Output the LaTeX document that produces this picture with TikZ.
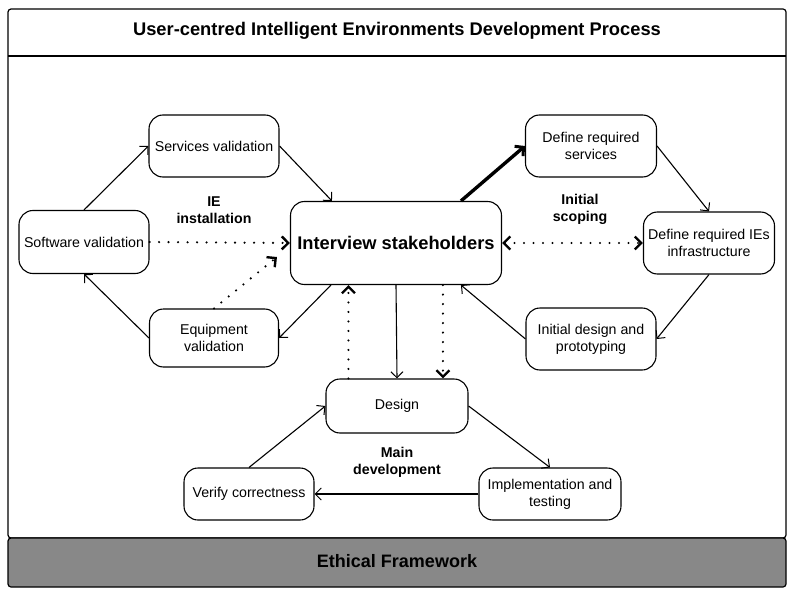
\documentclass[tikz,border=0pt]{standalone}
\usepackage{fontspec}
\setmainfont{Liberation Sans}
\usetikzlibrary{arrows.meta}
\definecolor{bandgray}{RGB}{136,136,136}
\tikzset{stage/.style = {draw, rounded corners=14pt, align=center, line width=1.1pt,
                         font=\fontsize{14.2}{17}\selectfont, inner sep=0pt},
         phase/.style = {align=center, font=\bfseries\fontsize{14.2}{17}\selectfont},
         barb/.tip = {Straight Barb[length=6pt,width=12pt,line width=1pt]},
         dotbarb/.tip = {Straight Barb[length=6.5pt,width=13pt,line width=2.4pt]},
         flow/.style = {-barb, line width=1.1pt},
         link/.style = {dash pattern=on 0pt off 9.5pt, line cap=round, line width=2.4pt},
         push/.style = {-{Straight Barb[length=6pt,width=13pt,line width=3pt]}, line width=3.4pt}}

\begin{document}
\begin{tikzpicture}[x=1pt, y=-1pt]
      \useasboundingbox (0, 0) rectangle (794, 596);

      % frame
      \draw [line width=1.2pt, rounded corners=3pt] (8, 9) rectangle (786, 538);
      \draw [line width=1.2pt] (8, 56) -- (786, 56);
      \draw [line width=1.2pt, rounded corners=3pt, fill=bandgray] (8, 538) rectangle (786, 587);
      \node [font=\bfseries\fontsize{18.3}{21}\selectfont] (title) at (397, 31)
            {User-centred Intelligent Environments Development Process};
      \node [font=\bfseries\fontsize{18}{21}\selectfont] (ethics) at (397, 561) {Ethical Framework};

      % stages
      \node [stage, minimum width=211, minimum height=83,
             font=\bfseries\fontsize{18.3}{21}\selectfont] (interview) at (396, 243) {Interview stakeholders};
      \node [stage, minimum width=130, minimum height=62] (servval) at (214, 146) {Services validation};
      \node [stage, minimum width=130, minimum height=63] (softval) at (84, 242) {Software validation};
      \node [stage, minimum width=129, minimum height=58] (equipval) at (214, 338) {Equipment\\validation};
      \node [stage, minimum width=131, minimum height=62] (defserv) at (591, 146) {Define required\\services};
      \node [stage, minimum width=131, minimum height=62] (defies) at (709, 243) {Define required IEs\\infrastructure};
      \node [stage, minimum width=130, minimum height=62] (initdes) at (591, 339) {Initial design and\\prototyping};
      \node [stage, minimum width=142, minimum height=54] (design) at (397, 406) {Design};
      \node [stage, minimum width=130, minimum height=52] (verify) at (249, 494) {Verify correctness};
      \node [stage, minimum width=142, minimum height=52] (implement) at (550, 494) {Implementation and\\testing};

      \node [phase] (install) at (214, 210) {IE\\installation};
      \node [phase] (scoping) at (580, 209) {Initial\\scoping};
      \node [phase] (maindev) at (397, 462) {Main\\development};

      % installation loop
      \draw [flow] (softval.north) -- (servval.west);
      \draw [flow] (servval.east) -- ([xshift=42pt]interview.north west);
      \draw [flow] ([xshift=41pt]interview.south west) -- (equipval.east);
      \draw [flow] (equipval.west) -- (softval.south);
      \draw [link, -dotbarb] (softval.east) -- (interview.west);
      \coordinate (equiptip) at ([xshift=-13pt, yshift=-14pt]interview.west);
      \draw [link, -dotbarb] (equipval.north) -- (equiptip);

      % scoping loop
      \draw [push] ([xshift=171pt]interview.north west) -- (defserv.west);
      \draw [flow] (defserv.east) -- (defies.north);
      \draw [flow] (defies.south) -- (initdes.east);
      \draw [flow] (initdes.west) -- ([xshift=171pt]interview.south west);
      \draw [link, dotbarb-dotbarb] (interview.east) -- (defies.west);

      % main development loop
      \draw [flow] (interview.south) -- (design.north);
      \draw [link, -dotbarb] ([xshift=153pt]interview.south west) -- ([xshift=153pt]interview.south west |- design.north);
      \draw [link, -dotbarb] ([xshift=23pt]design.north west) -- ([xshift=23pt]design.north west |- interview.south);
      \draw [flow] (design.east) -- (implement.north);
      \draw [flow] (implement.west) -- (verify.east);
      \draw [flow] (verify.north) -- (design.west);
    \end{tikzpicture}
\end{document}
